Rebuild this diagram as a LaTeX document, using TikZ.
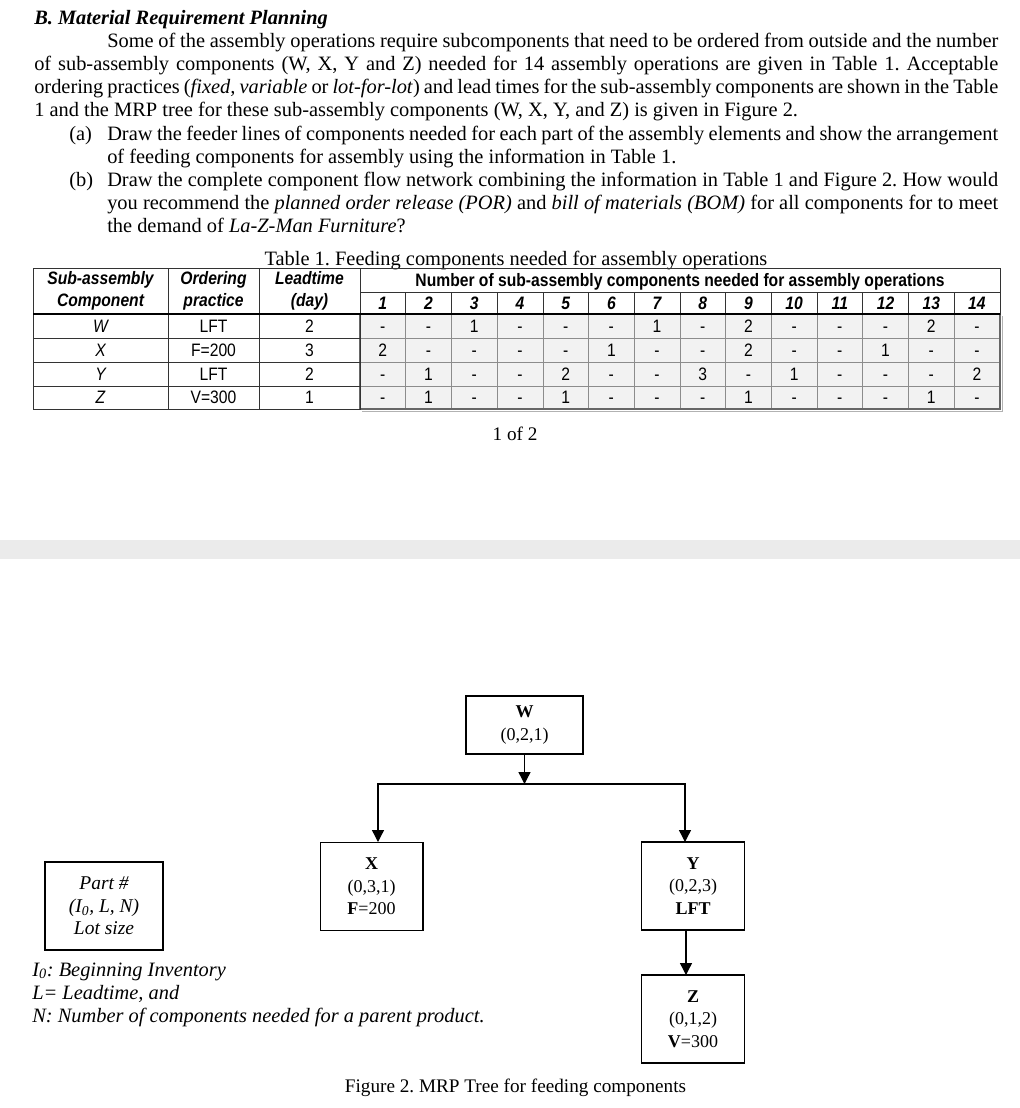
\documentclass[tikz,border=0pt]{standalone}
\usepackage{fontspec}
\setmainfont{Liberation Serif}
\newfontfamily\tabfont[FakeStretch=0.87]{Liberation Sans}
\usetikzlibrary{arrows.meta}
\frenchspacing
\newcommand\cellFill{black!5}
\newcommand\bandFill{black!8}
\newcommand\bodysize{\fontsize{15.3}{18}\selectfont}
\newcommand\capsize{\fontsize{14.4}{17}\selectfont}
\newcommand\tabsize{\fontsize{13.5}{16}\selectfont}

\tikzset{
    textline/.style={anchor=base west, inner sep=0pt, font=\bodysize},
    tabtext/.style={anchor=base, inner sep=0pt, font=\tabfont\tabsize},
    tabhead/.style={inner sep=0pt, align=center, font=\tabfont\tabsize\bfseries\itshape},
    partbox/.style={draw, line width=1pt, align=center, inner sep=0pt,
        font=\fontsize{13.5}{17}\selectfont, minimum width=77pt, minimum height=66pt},
    feed/.style={line width=1pt, -{Triangle[width=9pt,length=9pt]}},
}

\begin{document}
\begin{tikzpicture}[x=0.75pt,y=-0.75pt]
    \useasboundingbox (0,0) rectangle (1020,1108);
    \fill[white] (0,0) rectangle (1020,1108);

    % question text
    \node[textline, font=\bodysize\bfseries\itshape] (title) at (34,24) {B. Material Requirement Planning};
    \node[textline] (p1) at (107,47.2) {\makebox[668.25pt][s]{Some of the assembly operations require subcomponents that need to be ordered from outside and the number}};
    \node[textline] (p2) at (34,70.4) {\makebox[723pt][s]{of sub-assembly components (W, X, Y and Z) needed for 14 assembly operations are given in Table 1. Acceptable}};
    \node[textline] (p3) at (34,93.6) {\makebox[723pt][s]{ordering practices (\textit{fixed, variable} or \textit{lot-for-lot}) and lead times for the sub-assembly components are shown in the Table}};
    \node[textline] (p4) at (34,116.8) {1 and the MRP tree for these sub-assembly components (W, X, Y, and Z) is given in Figure 2.};
    \node[textline] (qa) at (69,140) {(a)};
    \node[textline] (a1) at (107,140) {\makebox[668.25pt][s]{Draw the feeder lines of components needed for each part of the assembly elements and show the arrangement}};
    \node[textline] (a2) at (107,163.2) {of feeding components for assembly using the information in Table 1.};
    \node[textline] (qb) at (69,186.4) {(b)};
    \node[textline] (b1) at (107,186.4) {\makebox[668.25pt][s]{Draw the complete component flow network combining the information in Table 1 and Figure 2. How would}};
    \node[textline] (b2) at (107,209.6) {\makebox[668.25pt][s]{you recommend the \textit{planned order release (POR)} and \textit{bill of materials (BOM)} for all components for to meet}};
    \node[textline] (b3) at (107,232.8) {the demand of \textit{La-Z-Man Furniture}?};

    % table 1
    \node[font=\bodysize, anchor=base, inner sep=0pt] (tcap) at (516,265) {Table 1. Feeding components needed for assembly operations};
    \fill[\cellFill] (360,314) rectangle (1000,409);
    \foreach \k in {1,...,13}
        \draw[black!45] ({360+45.7*\k},314) -- ({360+45.7*\k},409);
    \foreach \yy in {338,362,386}
        \draw[black!45] (360,\yy) -- (1000,\yy);
    \draw[black!60, line width=1pt] (360,314) rectangle (1000,409);
    \draw[black!30] (1002,316) -- (1002,411) -- (362,411);
    \draw[black!80] (33,268) rectangle (360,409);
    \draw[black!80] (168,268) -- (168,409);
    \draw[black!80] (259,268) -- (259,409);
    \foreach \yy in {338,362,386}
        \draw[black!80] (33,\yy) -- (360,\yy);
    \draw[black!80] (360,268) rectangle (1000,314);
    \draw[black!80] (360,292) -- (1000,292);
    \foreach \k in {1,...,13}
        \draw[black!80] ({360+45.7*\k},292) -- ({360+45.7*\k},314);
    \draw[black, line width=1pt] (33,314) -- (1000,314);

    \node[tabhead] (hsub) at (100.5,291) {Sub-assembly\\Component};
    \node[tabhead] (hord) at (213.5,291) {Ordering\\practice};
    \node[tabhead] (hlead) at (309.5,291) {Leadtime\\(day)};
    \node[tabtext, font=\tabfont\tabsize\bfseries] (hnum) at (680,286.5) {Number of sub-assembly components needed for assembly operations};
    \foreach \k in {1,...,14}
        \node[tabtext, font=\tabfont\tabsize\bfseries\itshape] (op\k) at ({360+45.7*(\k-0.5)},309.5) {\k};

    \foreach \nm/\lot/\lt/\vals [count=\r] in {
        W/LFT/2/{-,-,1,-,-,-,1,-,2,-,-,-,2,-},
        X/F=200/3/{2,-,-,-,-,1,-,-,2,-,-,1,-,-},
        Y/LFT/2/{-,1,-,-,2,-,-,3,-,1,-,-,-,2},
        Z/V=300/1/{-,1,-,-,1,-,-,-,1,-,-,-,1,-}} {
        \node[tabtext, font=\tabfont\tabsize\itshape] (comp\r) at (100.5,{332.5+23.8*(\r-1)}) {\nm};
        \node[tabtext] (lot\r) at (213.5,{332.5+23.8*(\r-1)}) {\lot};
        \node[tabtext] (lt\r) at (309.5,{332.5+23.8*(\r-1)}) {\lt};
        \foreach \v [count=\c] in \vals
            \node[tabtext] (d\r-\c) at ({360+45.7*(\c-0.5)},{332.5+23.8*(\r-1)}) {\v};
    }

    \node[font=\capsize, anchor=base, inner sep=0pt] (page) at (515,440) {1 of 2};

    % page break
    \fill[\bandFill] (0,540) rectangle (1020,559);

    % MRP tree
    \node[partbox, minimum width=87.75pt, minimum height=43.5pt] (w) at (524.5,725) {\textbf{W}\\(0,2,1)};
    \node[partbox] (x) at (371.5,886.5) {\textbf{X}\\(0,3,1)\\\textbf{F}=200};
    \node[partbox] (y) at (693,886) {\textbf{Y}\\(0,2,3)\\\textbf{LFT}};
    \node[partbox] (z) at (693,1019) {\textbf{Z}\\(0,1,2)\\\textbf{V}=300};
    \node[partbox, minimum width=88.5pt, font=\fontsize{14.6}{17}\selectfont\itshape] (key) at (104,906) {Part \#\\(I\textsubscript{0}, L, N)\\Lot size};

    \coordinate (fork) at (524.5,784);
    \coordinate (xin) at (378,842);
    \coordinate (yin) at (685,842);
    \coordinate (yout) at (686,930);
    \coordinate (zin) at (686,975);
    \draw[feed] (w) -- (fork);
    \draw[feed] (fork) -| (xin);
    \draw[feed] (fork) -| (yin);
    \draw[feed] (yout) -- (zin);

    \node[textline, font=\bodysize\itshape] (k1) at (32,976) {I\textsubscript{0}: Beginning Inventory};
    \node[textline, font=\bodysize\itshape] (k2) at (32,999) {L= Leadtime, and};
    \node[textline, font=\bodysize\itshape] (k3) at (32,1022) {N: Number of components needed for a parent product.};

    \node[font=\capsize, anchor=base, inner sep=0pt] (fcap) at (515.5,1092) {Figure 2. MRP Tree for feeding components};
\end{tikzpicture}
\end{document}
